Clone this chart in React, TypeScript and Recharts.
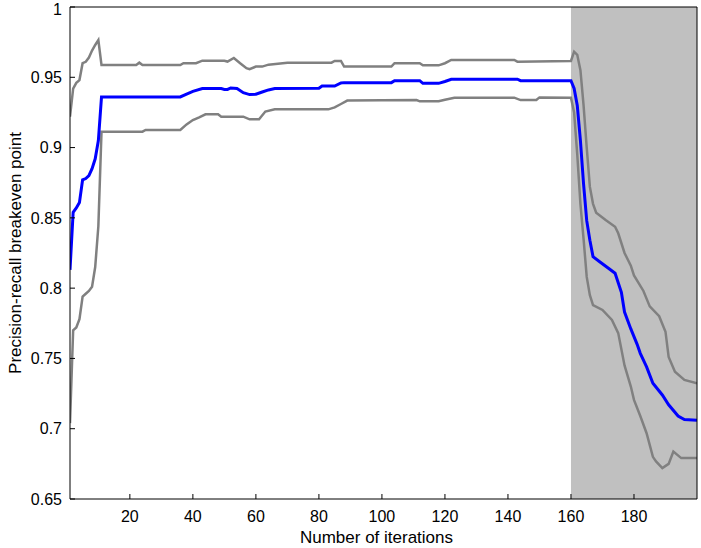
import React from "react";
import {
  LineChart,
  Line,
  XAxis,
  YAxis,
  ReferenceArea,
} from "recharts";

// mean precision-recall breakeven point per iteration
const meanIters = [
  1, 2, 3, 4, 5, 6, 7, 8, 9, 10, 11, 36, 38, 40, 43, 49, 50, 51, 52, 54, 56, 58, 60, 62, 64, 66,
  80, 81, 85, 87, 88, 103, 104, 112, 113, 118, 120, 122, 143, 144, 160, 161, 162, 163, 164, 165,
  166, 167, 169, 172, 174, 176, 177, 179, 181, 182, 184, 186, 189, 191, 194, 196, 200,
];
const meanValues = [
  0.813, 0.854, 0.857, 0.861, 0.877, 0.878, 0.88, 0.885, 0.892, 0.905, 0.936, 0.936, 0.938, 0.94,
  0.942, 0.942, 0.9414, 0.9414, 0.9424, 0.942, 0.939, 0.9377, 0.938, 0.9395, 0.941, 0.942, 0.9422,
  0.9438, 0.9438, 0.946, 0.9462, 0.9462, 0.9476, 0.9476, 0.9457, 0.9457, 0.947, 0.9486, 0.9486,
  0.9476, 0.9476, 0.942, 0.93, 0.905, 0.874, 0.848, 0.834, 0.8224, 0.819, 0.814, 0.8106, 0.797,
  0.783, 0.771, 0.76, 0.7536, 0.744, 0.7324, 0.724, 0.717, 0.709, 0.7065, 0.706,
];

// upper band
const upperIters = [
  1, 2, 3, 4, 5, 6, 7, 8, 9, 10, 11, 22, 23, 24, 36, 37, 41, 43, 50, 51, 53, 55, 57, 58, 60, 62,
  64, 70, 84, 85, 87, 88, 103, 104, 112, 113, 118, 120, 122, 142, 143, 160, 161, 162, 163, 164,
  165, 166, 167, 168, 171, 174, 175, 177, 179, 180, 183, 185, 188, 190, 191, 193, 196, 200,
];
const upperValues = [
  0.922, 0.942, 0.946, 0.948, 0.96, 0.961, 0.964, 0.969, 0.973, 0.9765, 0.9587, 0.9587, 0.9604,
  0.9587, 0.9587, 0.96, 0.96, 0.9618, 0.9618, 0.9612, 0.9637, 0.96, 0.9565, 0.9557, 0.9576,
  0.9576, 0.959, 0.9604, 0.9604, 0.9616, 0.9616, 0.9576, 0.9576, 0.96, 0.96, 0.9585, 0.9585, 0.96,
  0.9623, 0.9623, 0.9611, 0.9616, 0.9682, 0.966, 0.955, 0.93, 0.9, 0.872, 0.86, 0.8537, 0.8485,
  0.8437, 0.839, 0.825, 0.816, 0.809, 0.798, 0.787, 0.78, 0.769, 0.751, 0.7406, 0.7347, 0.7324,
];

// lower band
const lowerIters = [
  1, 2, 3, 4, 5, 6, 7, 8, 9, 10, 11, 24, 25, 36, 38, 40, 42, 44, 48, 49, 56, 58, 61, 63, 66, 83,
  85, 87, 89, 111, 112, 118, 120, 123, 142, 144, 149, 150, 160, 161, 162, 163, 164, 165, 166, 167,
  170, 173, 175, 177, 179, 180, 182, 184, 186, 187, 189, 191, 192.5, 195, 200,
];
const lowerValues = [
  0.704, 0.77, 0.772, 0.778, 0.794, 0.796, 0.798, 0.801, 0.815, 0.844, 0.9113, 0.9113, 0.9125,
  0.9125, 0.9165, 0.9196, 0.9215, 0.9237, 0.9237, 0.922, 0.922, 0.9201, 0.9201, 0.9256, 0.9272,
  0.9272, 0.9286, 0.931, 0.9334, 0.9338, 0.9329, 0.9329, 0.934, 0.9355, 0.9355, 0.9338, 0.9338,
  0.9357, 0.9355, 0.925, 0.895, 0.86, 0.835, 0.808, 0.795, 0.788, 0.7845, 0.7774, 0.768, 0.745,
  0.73, 0.7205, 0.709, 0.6968, 0.68, 0.6767, 0.672, 0.675, 0.6838, 0.6791, 0.6791,
];

const xTicks = [20, 40, 60, 80, 100, 120, 140, 160, 180];
const yTicks = [0.65, 0.7, 0.75, 0.8, 0.85, 0.9, 0.95, 1];

const toPoints = (xs: number[], ys: number[]) => xs.map((x, i) => ({ iter: x, value: ys[i] }));

const meanData = toPoints(meanIters, meanValues);
const upperData = toPoints(upperIters, upperValues);
const lowerData = toPoints(lowerIters, lowerValues);

const tickStyle = { fill: "#000", fontSize: 16 };
const tickLineStyle = { stroke: "#000", strokeWidth: 1 };

export default function App() {
  return (
    <div style={{ position: "absolute", left: 0, top: 0 }}>
      <LineChart
        width={701}
        height={548}
        margin={{ top: 6, right: 3, left: 0, bottom: 0 }}
        style={{ fontFamily: "'Liberation Sans', Arial, sans-serif", background: "#fff" }}
      >
        <ReferenceArea x1={160} x2={200} fill="#c0c0c0" fillOpacity={1} stroke="none" />
        <XAxis
          dataKey="iter"
          type="number"
          domain={[1, 200]}
          ticks={xTicks}
          allowDataOverflow
          height={49}
          stroke="#000"
          tick={tickStyle}
          tickLine={tickLineStyle}
          tickSize={-5}
          tickMargin={17}
          label={{
            value: "Number of iterations",
            position: "insideBottom",
            offset: 5,
            dx: -7,
            style: { fill: "#000", fontSize: 17 },
          }}
        />
        <XAxis
          xAxisId="top"
          dataKey="iter"
          orientation="top"
          type="number"
          domain={[1, 200]}
          ticks={xTicks}
          allowDataOverflow
          height={1}
          stroke="#000"
          tick={false}
          tickLine={tickLineStyle}
          tickSize={-5}
        />
        <YAxis
          type="number"
          domain={[0.65, 1]}
          ticks={yTicks}
          allowDataOverflow
          width={70}
          stroke="#000"
          tick={tickStyle}
          tickLine={tickLineStyle}
          tickSize={-5}
          tickMargin={13}
          label={{
            value: "Precision-recall breakeven point",
            angle: -90,
            position: "insideLeft",
            offset: 15,
            style: { fill: "#000", fontSize: 17, textAnchor: "middle" },
          }}
        />
        <YAxis
          yAxisId="right"
          orientation="right"
          type="number"
          domain={[0.65, 1]}
          ticks={yTicks}
          allowDataOverflow
          width={1}
          stroke="#000"
          tick={false}
          tickLine={tickLineStyle}
          tickSize={-5}
        />
        {/* hidden series so the top and right box axes are drawn */}
        <Line
          xAxisId="top"
          yAxisId="right"
          data={meanData}
          dataKey="value"
          stroke="none"
          dot={false}
          activeDot={false}
          isAnimationActive={false}
        />
        <Line
          data={upperData}
          dataKey="value"
          type="linear"
          stroke="#808080"
          strokeWidth={2.5}
          dot={false}
          isAnimationActive={false}
        />
        <Line
          data={lowerData}
          dataKey="value"
          type="linear"
          stroke="#808080"
          strokeWidth={2.5}
          dot={false}
          isAnimationActive={false}
        />
        <Line
          data={meanData}
          dataKey="value"
          type="linear"
          stroke="#0000ff"
          strokeWidth={3}
          dot={false}
          isAnimationActive={false}
        />
      </LineChart>
    </div>
  );
}
